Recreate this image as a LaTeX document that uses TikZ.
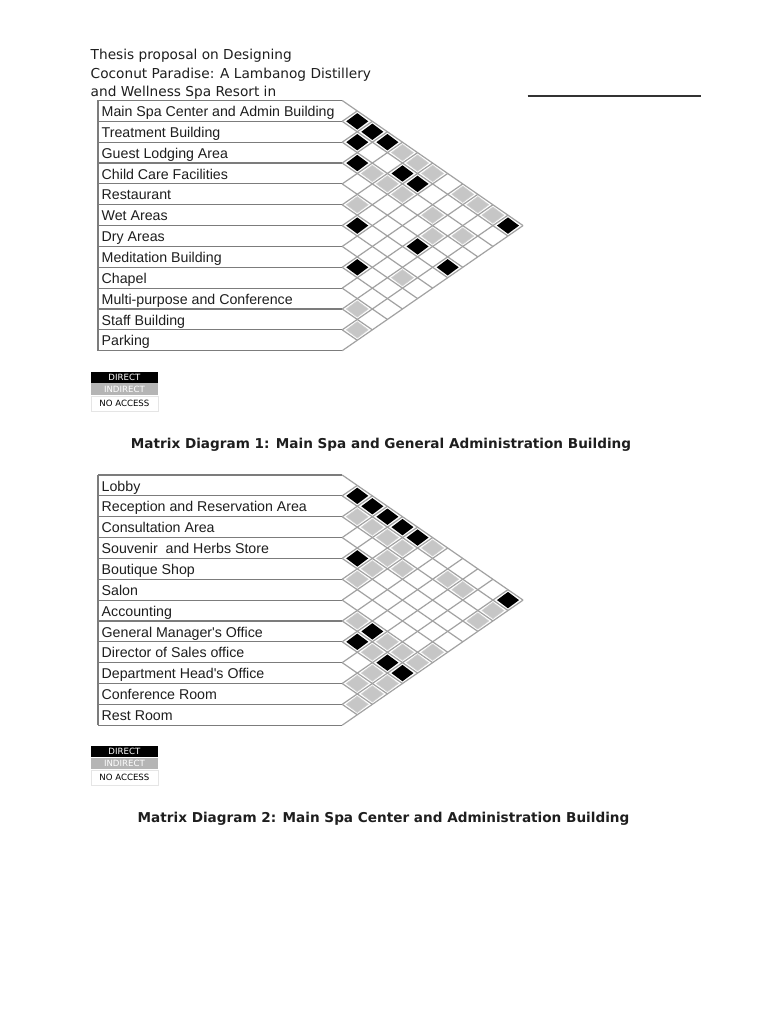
\documentclass[tikz,border=0pt]{standalone}
\usepackage{fontspec}
\setmainfont{DejaVu Sans}
\newfontfamily\rowfont{Liberation Sans}
\usetikzlibrary{positioning}

\definecolor{gridgray}{HTML}{A2A2A2}
\definecolor{cellgray}{HTML}{C6C6C6}
\definecolor{rowgray}{HTML}{7C7C7C}
\definecolor{textdark}{HTML}{1E1E1E}

\tikzset{
    header/.style={anchor=base west, inner sep=0pt, text=textdark, font=\fontsize{13.7}{15}\selectfont},
    rowlabel/.style={anchor=base west, inner sep=0pt, text=textdark, font=\rowfont\fontsize{14.2}{16}\selectfont},
    rowline/.style={draw=rowgray, line width=1.1pt},
    gridline/.style={draw=gridgray, line width=1.2pt},
    direct/.style={fill=black},
    indirect/.style={fill=cellgray, draw=gray!35, line width=0.5pt},
    legendbox/.style={minimum width=67pt, inner sep=0pt, font=\fontsize{8.6}{9}\selectfont},
    caption/.style={anchor=base, inner sep=0pt, text=textdark, font=\bfseries\fontsize{13.6}{15}\selectfont},
}

% rows and diamond lattice, top row edge at y=100.5
\newcommand{\matrixgrid}{%
    \foreach \k in {0,...,12}
        \draw[rowline] (98,100.5+\k*20.85) -- (342.2,100.5+\k*20.85);
    \draw[rowline] (98,100.5) -- (98,350.7);
    \foreach \k in {0,...,12} {
        \draw[gridline] (342.2,100.5+\k*20.85) -- ++({(12-\k)*15.07},{(12-\k)*10.425});
        \draw[gridline] (342.2,100.5+\k*20.85) -- ++({\k*15.07},{-\k*10.425});
    }
}
% #1 row, #2 column, #3 style
\newcommand{\markcell}[3]{%
    \pgfmathsetmacro\cx{342.2+(#2-#1)*15.07}
    \pgfmathsetmacro\cy{100.5+((#1+#2)/2-0.5)*20.85}
    \path[#3] (\cx-11,\cy) -- (\cx,\cy-8.2) -- (\cx+11,\cy) -- (\cx,\cy+8.2) -- cycle;
}

\begin{document}
\begin{tikzpicture}[x=1pt, y=-1pt]
    \fill[white] (0,0) rectangle (768,1024);
    \useasboundingbox (0,0) rectangle (768,1024);

    \node[header] (title1) at (90.5,60) {Thesis proposal on Designing};
    \node[header] (title2) at (90.5,78.3) {Coconut Paradise: A Lambanog Distillery};
    \node[header] (title3) at (90.5,96.6) {and Wellness Spa Resort in};
    \coordinate (signleft) at (527.7,96);
    \coordinate (signright) at (701,96);
    \draw[line width=1.2pt, black!80] (signleft) -- (signright);

    % Matrix diagram 1
    \begin{scope}
        \matrixgrid
        \node[rowlabel] (mainspa) at (101.5,116.5) {Main Spa Center and Admin Building};
        \node[rowlabel] (treatment) at (101.5,137.4) {Treatment Building};
        \node[rowlabel] (lodging) at (101.5,158.2) {Guest Lodging Area};
        \node[rowlabel] (childcare) at (101.5,179.1) {Child Care Facilities};
        \node[rowlabel] (restaurant) at (101.5,199.9) {Restaurant};
        \node[rowlabel] (wet) at (101.5,220.8) {Wet Areas};
        \node[rowlabel] (dry) at (101.5,241.6) {Dry Areas};
        \node[rowlabel] (meditation) at (101.5,262.5) {Meditation Building};
        \node[rowlabel] (chapel) at (101.5,283.3) {Chapel};
        \node[rowlabel] (multi) at (101.5,304.2) {Multi-purpose and Conference};
        \node[rowlabel] (staff) at (101.5,325.0) {Staff Building};
        \node[rowlabel] (parking) at (101.5,345.9) {Parking};

        \foreach \i/\j in {1/2,1/3,2/3,1/4,3/4,2/6,2/7,6/7,1/12,5/10,8/9,5/12}
            \markcell{\i}{\j}{direct};
        \foreach \i/\j in {1/5,1/6,1/7,3/5,3/6,3/7,1/9,1/10,1/11,3/9,5/6,4/10,3/11,7/11,10/11,11/12}
            \markcell{\i}{\j}{indirect};

        \node[legendbox, fill=black, text=white, minimum height=11pt] (direct1) at (124.4,377.2) {DIRECT};
        \node[legendbox, fill=gray!58, text=white, minimum height=11.7pt, below=0pt of direct1] (indirect1) {INDIRECT};
        \node[legendbox, draw=gray!20, minimum height=15pt, below=0.6pt of indirect1] (noaccess1) {NO ACCESS};

        \node[caption] (caption1) at (381,448.5) {Matrix Diagram 1: Main Spa and General Administration Building};
    \end{scope}

    % Matrix diagram 2
    \begin{scope}[shift={(0,374.5)}]
        \matrixgrid
        \node[rowlabel] (lobby) at (101.5,116.5) {Lobby};
        \node[rowlabel] (reception) at (101.5,137.4) {Reception and Reservation Area};
        \node[rowlabel] (consult) at (101.5,158.2) {Consultation Area};
        \node[rowlabel] (souvenir) at (101.5,179.1) {Souvenir~ and Herbs Store};
        \node[rowlabel] (boutique) at (101.5,199.9) {Boutique Shop};
        \node[rowlabel] (salon) at (101.5,220.8) {Salon};
        \node[rowlabel] (accounting) at (101.5,241.6) {Accounting};
        \node[rowlabel] (manager) at (101.5,262.5) {General Manager's Office};
        \node[rowlabel] (sales) at (101.5,283.3) {Director of Sales office};
        \node[rowlabel] (depthead) at (101.5,304.2) {Department Head's Office};
        \node[rowlabel] (conference) at (101.5,325.0) {Conference Room};
        \node[rowlabel] (restroom) at (101.5,345.9) {Rest Room};

        \foreach \i/\j in {1/2,1/3,1/4,1/5,1/6,1/12,4/5,7/9,8/9,8/11,8/12}
            \markcell{\i}{\j}{direct};
        \foreach \i/\j in {2/3,2/4,2/5,2/6,1/7,3/6,4/6,3/7,5/6,2/9,2/10,2/12,3/12,7/8,7/10,8/10,7/11,7/12,6/12,9/11,10/11,9/12,10/12,11/12}
            \markcell{\i}{\j}{indirect};

        \node[legendbox, fill=black, text=white, minimum height=11pt] (direct2) at (124.4,377.2) {DIRECT};
        \node[legendbox, fill=gray!58, text=white, minimum height=11.7pt, below=0pt of direct2] (indirect2) {INDIRECT};
        \node[legendbox, draw=gray!20, minimum height=15pt, below=0.6pt of indirect2] (noaccess2) {NO ACCESS};

        \node[caption] (caption2) at (383.5,447.5) {Matrix Diagram 2: Main Spa Center and Administration Building};
    \end{scope}
\end{tikzpicture}
\end{document}
